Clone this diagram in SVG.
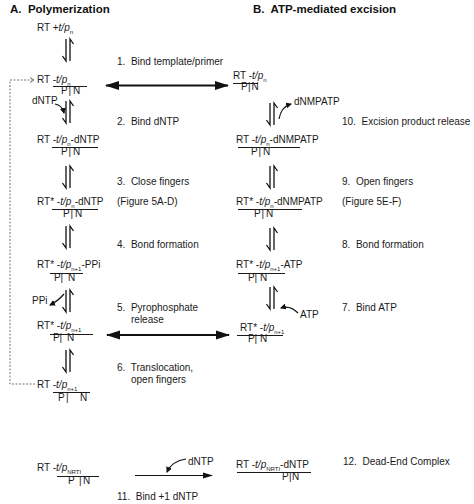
<svg xmlns="http://www.w3.org/2000/svg" width="474" height="504" viewBox="0 0 474 504">
<style>
text{font-family:"Liberation Sans",Arial,sans-serif;font-size:10px;fill:#1a1a1a}
.title{font-size:11.5px;font-weight:bold;fill:#111}
.i{font-style:italic}
.sub{font-size:6px}
.frac{stroke:#1a1a1a;stroke-width:1}
.big{stroke:#111;stroke-width:2;fill:none}
.thin{stroke:#111;stroke-width:1.2;fill:none}
.dash{stroke:#777;stroke-width:1;fill:none;stroke-dasharray:2 1.5}
.eq{stroke:#111;stroke-width:1.3;fill:none}
</style>
<defs>
<marker id="bh" markerUnits="userSpaceOnUse" markerWidth="14" markerHeight="10" refX="13" refY="5" orient="auto-start-reverse"><path d="M0,0.5 L14,5 L0,9.5 z" fill="#111"/></marker>
<marker id="mh" markerUnits="userSpaceOnUse" markerWidth="10" markerHeight="8" refX="9" refY="4" orient="auto"><path d="M0,1 L10,4 L0,7 z" fill="#111"/></marker>
<marker id="sh" markerUnits="userSpaceOnUse" markerWidth="6" markerHeight="6" refX="5" refY="3" orient="auto"><path d="M0,0 L6,3 L0,6 z" fill="#111"/></marker>
<g id="eq"><path class="eq" d="M0,0 V22 L-3.5,17 M4,22 V0 L7.5,5"/></g>
</defs>
<rect width="474" height="504" fill="#fff"/>

<text class="title" x="10" y="13" xml:space="preserve">A.  Polymerization</text>
<text class="title" x="253" y="13" xml:space="preserve">B.  ATP-mediated excision</text>

<g id="L0"><text x="37" y="31">RT +<tspan class="i">t/p</tspan><tspan class="sub" dy="3">n</tspan></text></g>
<g id="L1"><text x="37" y="83">RT -<tspan class="i">t/p</tspan><tspan class="sub" dy="3">n</tspan></text><line class="frac" x1="53" y1="86.5" x2="87" y2="86.5"/><text y="94"><tspan x="61">P</tspan><tspan x="68.5">|</tspan><tspan x="73">N</tspan></text></g>
<g id="L2"><text x="37" y="143">RT -<tspan class="i">t/p</tspan><tspan class="sub" dy="3">n</tspan><tspan dy="-3">-dNTP</tspan></text><line class="frac" x1="52" y1="147.5" x2="98" y2="147.5"/><text y="155"><tspan x="61">P</tspan><tspan x="68.5">|</tspan><tspan x="73">N</tspan></text></g>
<g id="L3"><text x="37" y="205">RT* -<tspan class="i">t/p</tspan><tspan class="sub" dy="3">n</tspan><tspan dy="-3">-dNTP</tspan></text><line class="frac" x1="52" y1="209.5" x2="98" y2="209.5"/><text y="217"><tspan x="63">P</tspan><tspan x="70.5">|</tspan><tspan x="75">N</tspan></text></g>
<g id="L4"><text x="37" y="268">RT* -<tspan class="i">t/p</tspan><tspan class="sub" dy="3">n+1</tspan><tspan dy="-3">-PPi</tspan></text><line class="frac" x1="50" y1="273.5" x2="83" y2="273.5"/><text y="281"><tspan x="54">P</tspan><tspan x="60.5">|</tspan><tspan x="68">N</tspan></text></g>
<g id="L5"><text x="37" y="329">RT* -<tspan class="i">t/p</tspan><tspan class="sub" dy="3">n+1</tspan></text><line class="frac" x1="50" y1="334.5" x2="93" y2="334.5"/><text y="341"><tspan x="53">P</tspan><tspan x="59.5">|</tspan><tspan x="67">N</tspan></text></g>
<g id="L6"><text x="37" y="388">RT -<tspan class="i">t/p</tspan><tspan class="sub" dy="3">n+1</tspan></text><line class="frac" x1="53" y1="392.5" x2="90" y2="392.5"/><text y="401"><tspan x="58">P</tspan><tspan x="66">|</tspan><tspan x="80">N</tspan></text></g>
<g id="L7"><text x="37" y="471">RT -<tspan class="i">t/p</tspan><tspan class="sub" dy="3">NRTI</tspan></text><line class="frac" x1="57" y1="476.5" x2="99" y2="476.5"/><text y="484"><tspan x="68">P</tspan><tspan x="79">|</tspan><tspan x="83">N</tspan></text></g>

<g id="R1"><text x="233" y="79">RT -<tspan class="i">t/p</tspan><tspan class="sub" dy="3">n</tspan></text><line class="frac" x1="233" y1="83.5" x2="258" y2="83.5"/><text y="90"><tspan x="241">P</tspan><tspan x="248">|</tspan><tspan x="251.5">N</tspan></text></g>
<g id="R2"><text x="236" y="143">RT -<tspan class="i">t/p</tspan><tspan class="sub" dy="3">n</tspan><tspan dy="-3">-dNMPATP</tspan></text><line class="frac" x1="238" y1="147.5" x2="300" y2="147.5"/><text y="154.5"><tspan x="251">P</tspan><tspan x="258.5">|</tspan><tspan x="263">N</tspan></text></g>
<g id="R3"><text x="236" y="205">RT* -<tspan class="i">t/p</tspan><tspan class="sub" dy="3">n</tspan><tspan dy="-3">-dNMPATP</tspan></text><line class="frac" x1="238" y1="209.5" x2="302" y2="209.5"/><text y="217"><tspan x="254">P</tspan><tspan x="261.5">|</tspan><tspan x="266">N</tspan></text></g>
<g id="R4"><text x="236" y="268">RT* -<tspan class="i">t/p</tspan><tspan class="sub" dy="3">n+1</tspan><tspan dy="-3">-ATP</tspan></text><line class="frac" x1="238" y1="273.5" x2="285" y2="273.5"/><text y="281"><tspan x="248">P</tspan><tspan x="254.5">|</tspan><tspan x="260">N</tspan></text></g>
<g id="R5"><text x="240" y="331">RT* -<tspan class="i">t/p</tspan><tspan class="sub" dy="3">n+1</tspan></text><line class="frac" x1="237" y1="335.5" x2="283" y2="335.5"/><text y="342"><tspan x="248">P</tspan><tspan x="254.5">|</tspan><tspan x="260">N</tspan></text></g>
<g id="R6"><text x="236" y="468">RT -<tspan class="i">t/p</tspan><tspan class="sub" dy="3">NRTI</tspan><tspan dy="-3">-dNTP</tspan></text><line class="frac" x1="237" y1="472.5" x2="311" y2="472.5"/><text y="479.5"><tspan x="282">P</tspan><tspan x="289">|</tspan><tspan x="292">N</tspan></text></g>

<g id="labels">
<text x="117" y="65" xml:space="preserve">1.  Bind template/primer</text>
<text x="117" y="125" xml:space="preserve">2.  Bind dNTP</text>
<text x="117" y="185" xml:space="preserve">3.  Close fingers</text>
<text x="117" y="205">(Figure 5A-D)</text>
<text x="117" y="248" xml:space="preserve">4.  Bond formation</text>
<text x="117" y="311" xml:space="preserve">5.  Pyrophosphate</text>
<text x="131" y="323">release</text>
<text x="117" y="371" xml:space="preserve">6.  Translocation,</text>
<text x="131" y="383">open fingers</text>
<text x="117" y="500" xml:space="preserve">11.  Bind +1 dNTP</text>
<text x="342" y="125" xml:space="preserve">10.  Excision product release</text>
<text x="342" y="185" xml:space="preserve">9.  Open fingers</text>
<text x="342" y="205">(Figure 5E-F)</text>
<text x="342" y="248" xml:space="preserve">8.  Bond formation</text>
<text x="342" y="311" xml:space="preserve">7.  Bind ATP</text>
<text x="343" y="465" xml:space="preserve">12.  Dead-End Complex</text>
<text x="32" y="104">dNTP</text>
<text x="32" y="304">PPi</text>
<text x="294" y="105">dNMPATP</text>
<text x="300" y="318">ATP</text>
<text x="188" y="465">dNTP</text>
</g>

<g id="connectors">
<use href="#eq" x="66" y="39"/>
<use href="#eq" x="66" y="101"/>
<use href="#eq" x="66" y="166"/>
<use href="#eq" x="66" y="226"/>
<use href="#eq" x="66" y="290"/>
<use href="#eq" x="66" y="350"/>
<use href="#eq" x="270" y="103"/>
<use href="#eq" x="270" y="166"/>
<use href="#eq" x="270" y="228"/>
<use href="#eq" x="270" y="287"/>
<line class="big" x1="106" y1="85.5" x2="228" y2="85.5" marker-start="url(#bh)" marker-end="url(#bh)"/>
<line class="big" x1="107" y1="335" x2="229" y2="335" marker-start="url(#bh)" marker-end="url(#bh)"/>
<line class="thin" x1="135" y1="475.5" x2="212" y2="475.5" marker-end="url(#mh)"/>
<path class="dash" d="M33,80 H10 V384 H35"/>
<path d="M30,77.5 L34,80 L30,82.5" stroke="#777" stroke-width="1" fill="none"/>
<path class="thin" d="M55,104 Q62,105 64,113" marker-end="url(#sh)"/>
<path class="thin" d="M64,294 Q58,301 50,305" marker-end="url(#sh)"/>
<path class="thin" d="M279,119 Q281,107 291,104" marker-end="url(#sh)"/>
<path class="thin" d="M298,313 Q290,305 281,308" marker-end="url(#sh)"/>
<path class="thin" d="M186,459 Q172,461 167,472" marker-end="url(#sh)"/>
</g>
</svg>
